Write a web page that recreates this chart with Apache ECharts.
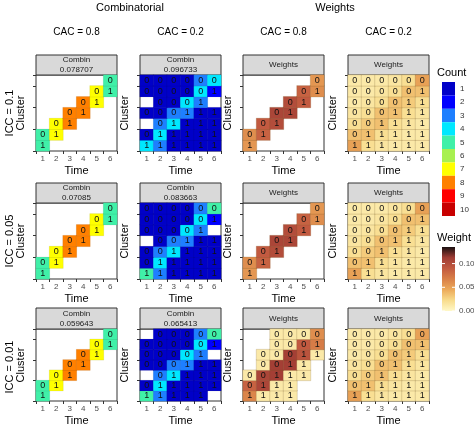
<!DOCTYPE html>
<html><head><meta charset="utf-8">
<script src="https://cdn.jsdelivr.net/npm/echarts@6/dist/echarts.min.js"></script>
<style>html,body{margin:0;padding:0;background:#fff}#c{width:474px;height:427px}</style>
</head><body><div id="c"></div>
<script>
const times = ['1','2','3','4','5','6'];
const clusters = ['1','2','3','4','5','6','7'];
// treatment indicator, rows = cluster 1..7 (bottom to top)
const treat = [
 [1,1,1,1,1,1],[0,1,1,1,1,1],[0,0,1,1,1,1],[0,0,0,1,1,1],[0,0,0,0,1,1],[0,0,0,0,0,1],[0,0,0,0,0,0]];
const N = null;
const countStair = [
 [5,N,N,N,N,N],[5,7,N,N,N,N],[N,7,8,N,N,N],[N,N,8,8,N,N],[N,N,N,8,7,N],[N,N,N,N,7,5],[N,N,N,N,N,5]];
const countIcc10 = [
 [4,3,1,1,1,1],[1,4,1,1,1,1],[N,3,4,1,1,1],[1,1,3,3,1,1],[N,1,1,4,3,N],[1,1,1,1,4,2],[1,1,1,1,3,4]];
const countIcc05 = [
 [5,3,1,1,1,1],[1,4,1,1,1,1],[1,3,4,1,1,1],[N,1,3,3,1,1],[1,1,1,4,3,N],[1,1,1,1,4,2],[1,1,1,1,3,5]];
const countIcc01 = [
 [5,3,1,1,1,N],[1,4,1,1,1,1],[N,3,4,1,1,1],[1,1,3,3,1,1],[1,1,1,4,3,N],[1,1,1,1,4,2],[N,1,1,1,3,5]];
const weightStair = [
 [0.055,N,N,N,N,N],[0.06,0.085,N,N,N,N],[N,0.09,0.1,N,N,N],[N,N,0.105,0.105,N,N],[N,N,N,0.1,0.09,N],[N,N,N,N,0.085,0.06],[N,N,N,N,N,0.055]];
const weightFull = [
 [0.05,0.02,0.015,0.012,0.012,0.012],[0.035,0.035,0.02,0.015,0.012,0.012],[0.02,0.03,0.035,0.02,0.015,0.012],
 [0.015,0.02,0.035,0.035,0.02,0.015],[0.012,0.015,0.02,0.035,0.03,0.02],[0.012,0.012,0.015,0.02,0.035,0.035],[0.012,0.012,0.012,0.015,0.02,0.05]];
const weightIcc01 = [
 [0.065,0.012,0.012,0.012,N,N],[0.085,0.105,0.012,0.012,N,N],[0.012,0.105,0.11,0.012,0.012,N],[N,0.012,0.11,0.11,0.012,N],
 [N,0.012,0.012,0.11,0.095,0.012],[N,N,0.012,0.012,0.09,0.07],[N,N,0.012,0.012,0.012,0.06]];
const stripCombin = [['0.078707','0.096733'],['0.07085','0.083663'],['0.059643','0.065413']];
const iccLabels = ['ICC = 0.1','ICC = 0.05','ICC = 0.01'];
const cacLabels = ['CAC = 0.8','CAC = 0.2','CAC = 0.8','CAC = 0.2'];
const countLevels = ['1','2','3','4','5','6','7','8','9','10'];
const countColors = ['#0000C8','#0000FF','#1E7FFF','#00E8FF','#40F0A8','#A8F050','#FFFF00','#FF8000','#FF0000','#C80000'];
const weightColors = ['#FFF8C8','#F8DC8C','#ECAA5A','#D98048','#C25A40','#A03C34','#1A1010'];
const weightTicks = [0.10,0.05,0.00];

const panels = [
 [countStair,countIcc10,weightStair,weightFull],
 [countStair,countIcc05,weightStair,weightFull],
 [countStair,countIcc01,weightIcc01,weightFull]];

const colX=[36,140,243,348], W=81, stripTop=[55,183,308], plotTop=[75,203,329], H=76;
const grids=[],xA=[],yA=[],series=[],graphic=[];
const countIdx=[],weightIdx=[];
panels.forEach((row,ri)=>{
  row.forEach((mat,ci)=>{
    const k=grids.length;
    grids.push({left:colX[ci],top:plotTop[ri],width:W,height:H,show:true,borderColor:'#333',borderWidth:1,backgroundColor:'#fff'});
    xA.push({type:'category',data:times,gridIndex:k,name:'Time',nameLocation:'middle',nameGap:14,
      nameTextStyle:{fontSize:11,color:'#000'},axisLine:{show:false},axisTick:{show:true,length:3,lineStyle:{color:'#333'}},
      axisLabel:{fontSize:8,color:'#4d4d4d',margin:4},splitLine:{show:false}});
    yA.push({type:'category',data:clusters,gridIndex:k,name:'Cluster',nameLocation:'middle',nameGap:10,
      nameTextStyle:{fontSize:11,color:'#000'},axisLine:{show:false},axisTick:{show:true,length:3,lineStyle:{color:'#333'}},
      axisLabel:{show:false},splitLine:{show:false}});
    const data=[];
    mat.forEach((r,y)=>r.forEach((v,x)=>{ if(v!==null) data.push([x,y,v,treat[y][x]]); }));
    const isW = ci>=2;
    (isW?weightIdx:countIdx).push(series.length);
    series.push({type:'heatmap',xAxisIndex:k,yAxisIndex:k,data:data,
      itemStyle:{borderColor:isW?'rgba(120,90,40,0.35)':'rgba(0,0,0,0.12)',borderWidth:0.6},
      label:{show:true,formatter:p=>String(p.value[3]),fontSize:9,color:'#111'},emphasis:{disabled:true}});
    const s=isW?'Weights':'Combin\n'+stripCombin[ri][ci];
    graphic.push({type:'rect',shape:{x:colX[ci],y:stripTop[ri],width:W,height:plotTop[ri]-stripTop[ri]},style:{fill:'#d9d9d9',stroke:'#333',lineWidth:1}});
    graphic.push({type:'text',x:colX[ci]+W/2,y:(stripTop[ri]+plotTop[ri])/2,style:{text:s,fontSize:8,fill:'#1a1a1a',align:'center',verticalAlign:'middle',lineHeight:10}});
  });
  graphic.push({type:'text',x:10,y:plotTop[ri]+H/2,rotation:Math.PI/2,style:{text:iccLabels[ri],fontSize:11,fill:'#000',align:'center',verticalAlign:'middle'}});
});
cacLabels.forEach((t,i)=>graphic.push({type:'text',x:colX[i]+W/2,y:32,style:{text:t,fontSize:10,fill:'#000',align:'center',verticalAlign:'middle'}}));
graphic.push({type:'text',x:130,y:8,style:{text:'Combinatorial',fontSize:11,fill:'#000',align:'center',verticalAlign:'middle'}});
graphic.push({type:'text',x:335,y:8,style:{text:'Weights',fontSize:11,fill:'#000',align:'center',verticalAlign:'middle'}});
// Count legend
graphic.push({type:'text',x:437,y:73,style:{text:'Count',fontSize:11,fill:'#000',verticalAlign:'middle'}});
const kTop=82,kH=13.4;
countLevels.forEach((l,i)=>{
  graphic.push({type:'rect',shape:{x:442,y:kTop+i*kH,width:13,height:kH},style:{fill:countColors[i]}});
  graphic.push({type:'text',x:460,y:kTop+i*kH+kH/2,style:{text:l,fontSize:8,fill:'#333',verticalAlign:'middle'}});
});
// Weight legend
graphic.push({type:'text',x:437,y:238,style:{text:'Weight',fontSize:11,fill:'#000',verticalAlign:'middle'}});
const wMax=0.135, barTop=247, barH=64;
graphic.push({type:'rect',shape:{x:442,y:barTop,width:13,height:barH},
  style:{fill:new echarts.graphic.LinearGradient(0,1,0,0,weightColors.map((c,i)=>({offset:i/(weightColors.length-1),color:c})))}});
weightTicks.forEach(v=>{
  const y=barTop+barH-v/wMax*barH;
  graphic.push({type:'line',shape:{x1:442,y1:y,x2:445,y2:y},style:{stroke:'#fff',lineWidth:1}});
  graphic.push({type:'line',shape:{x1:452,y1:y,x2:455,y2:y},style:{stroke:'#fff',lineWidth:1}});
  graphic.push({type:'text',x:459,y:y,style:{text:v.toFixed(2),fontSize:8,fill:'#4d4d4d',verticalAlign:'middle'}});
});

const chart=echarts.init(document.getElementById('c'),null,{renderer:'canvas'});
chart.setOption({
  animation:false,
  grid:grids,xAxis:xA,yAxis:yA,series:series,graphic:graphic,
  visualMap:[
    {type:'piecewise',show:false,seriesIndex:countIdx,dimension:2,
     pieces:countColors.map((c,i)=>({value:i+1,color:c}))},
    {type:'continuous',show:false,seriesIndex:weightIdx,dimension:2,min:0,max:wMax,
     inRange:{color:weightColors}}
  ]
});
</script></body></html>
